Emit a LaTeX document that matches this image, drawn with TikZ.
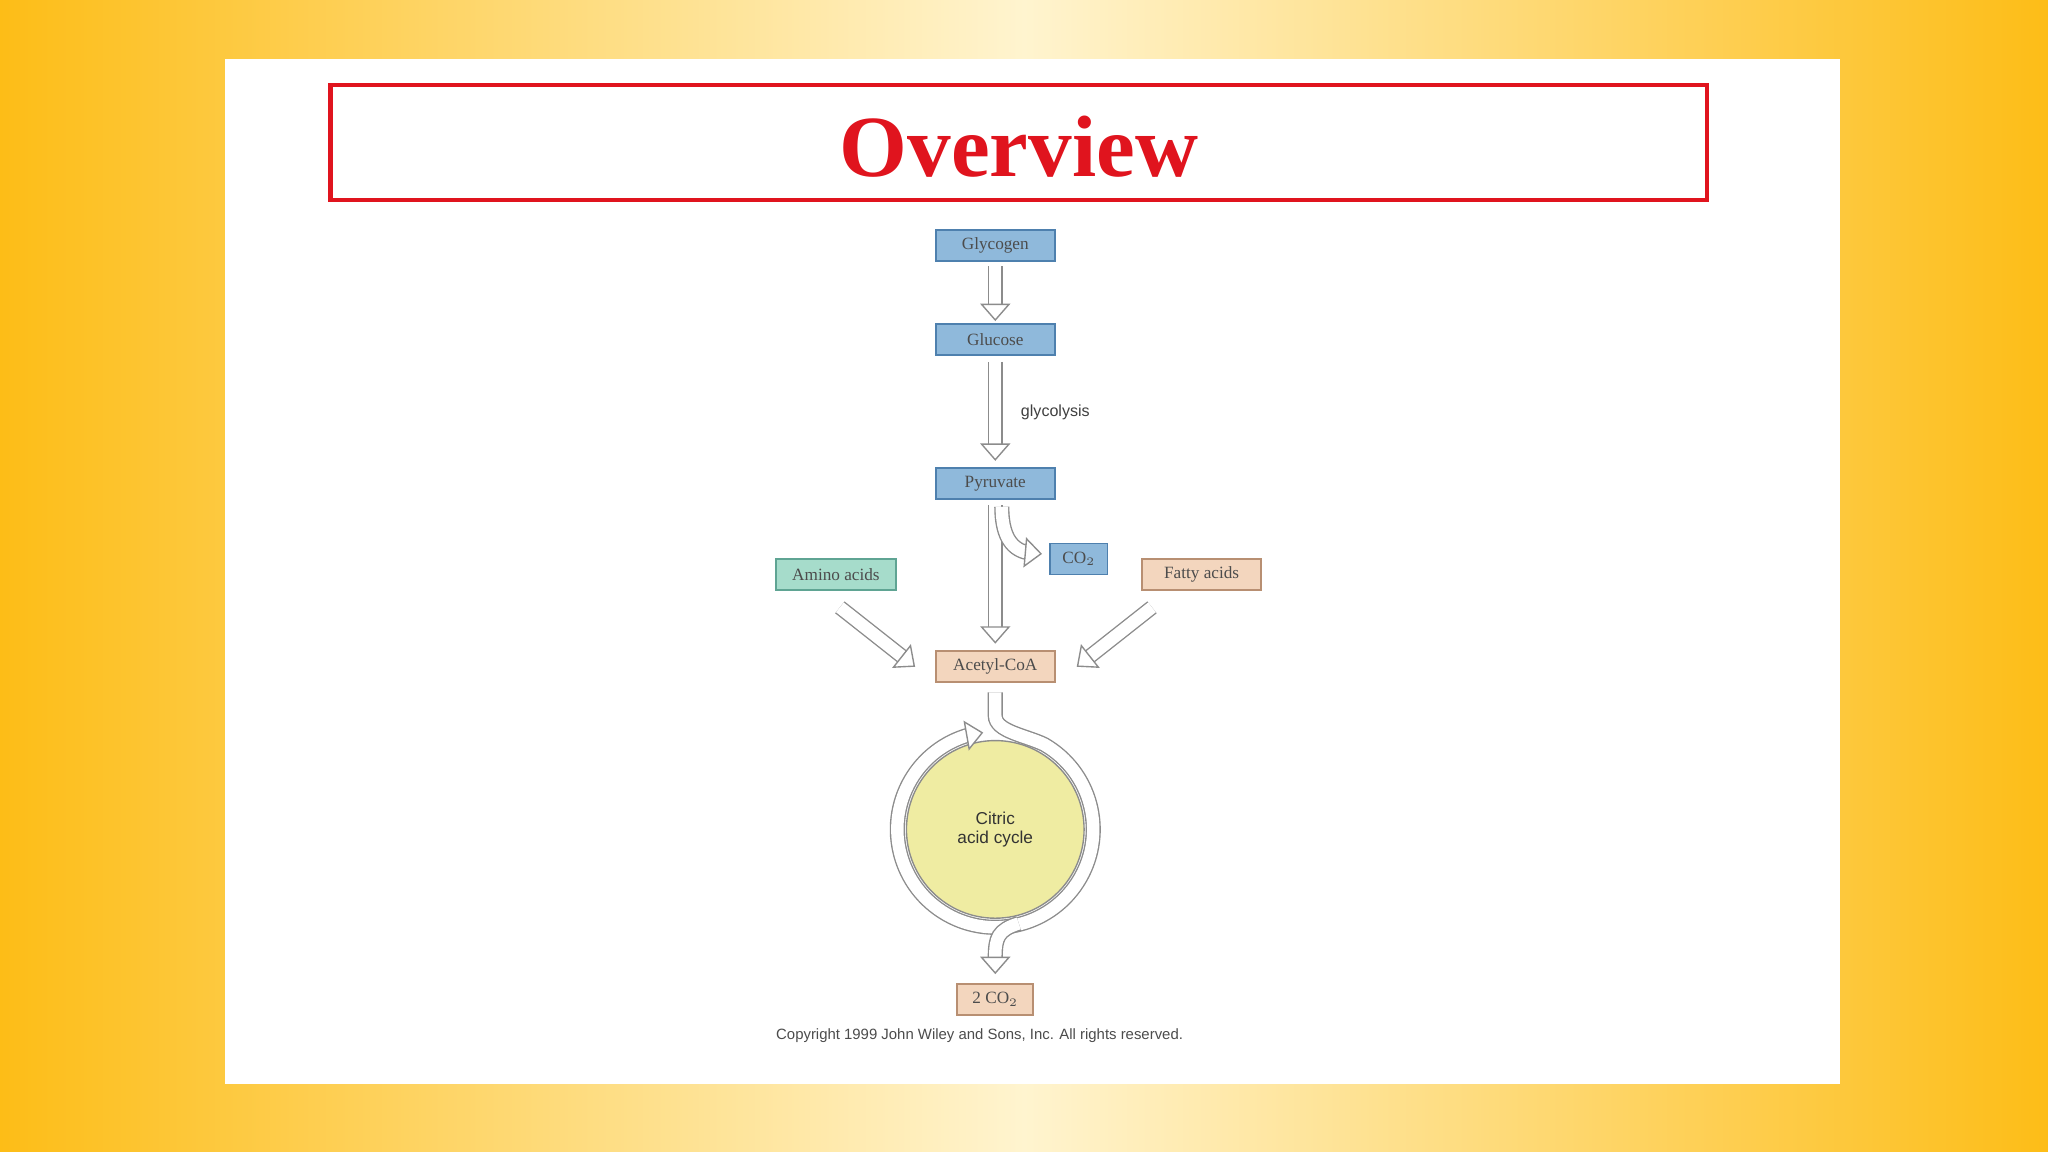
\documentclass[tikz,border=0pt]{standalone}
\usepackage{fontspec}
\setmainfont{Liberation Serif}
\setsansfont{Liberation Sans}
\usetikzlibrary{calc}
\definecolor{bgY}{HTML}{FDBD17}
\definecolor{bgL}{HTML}{FFF4CF}
\definecolor{tred}{HTML}{E0141E}
\definecolor{blueF}{HTML}{8FB9DB}
\definecolor{blueD}{HTML}{4E80AE}
\definecolor{tealF}{HTML}{A6DCCB}
\definecolor{tealD}{HTML}{5FA493}
\definecolor{peachF}{HTML}{F3D6BE}
\definecolor{peachD}{HTML}{B88F72}
\definecolor{cycF}{HTML}{EFECA2}
\definecolor{arrG}{HTML}{8C8C8C}
\tikzset{
  bluebox/.style={draw=blueD, fill=blueF, line width=0.8pt, minimum width=52pt, minimum height=13.5pt, inner sep=0pt, font=\fontsize{7.5}{8}\selectfont, text=black!70},
  tealbox/.style={bluebox, draw=tealD, fill=tealF},
  peachbox/.style={bluebox, draw=peachD, fill=peachF},
  shaft/.style={draw=arrG, line width=0.6pt, double=white, double distance=5.4pt},
  headst/.style={draw=arrG, fill=white, line width=0.6pt, line join=miter},
}
\newcommand\hhead[2]{\draw[headst, shift={(#1)}, rotate=#2] (0,0) -- (-12,10.5) -- (-12,-10.5) -- cycle;}
\begin{document}
\begin{tikzpicture}[x=0.02cm, y=0.02cm]
\useasboundingbox (0,0) rectangle (1568,-882);
\shade[left color=bgY, right color=bgY, middle color=bgL] (0,0) rectangle (1568,-882);
\fill[white] (172,-45) rectangle (1409,-830);
\node[draw=tred, line width=2pt, minimum width=1054*0.02cm, minimum height=88*0.02cm, inner sep=0pt] (title) at (780,-109) {};
\node[text=tred, font=\fontsize{38}{40}\selectfont\bfseries] (ttext) at (780,-112) {Overview};

\node[bluebox] (glycogen) at (762,-188) {Glycogen};
\node[bluebox] (glucose) at (762,-260) {Glucose};
\node[bluebox] (pyruvate) at (762,-370) {Pyruvate};
\node[bluebox, minimum width=25pt] (co2) at (826,-428) {CO$_2$};
\node[tealbox] (amino) at (640,-440) {Amino acids};
\node[peachbox] (fatty) at (920,-440) {Fatty acids};
\node[peachbox] (acetyl) at (762,-510) {Acetyl-CoA};
\node[peachbox, minimum width=33pt] (tco2) at (762,-765) {2 CO$_2$};
\node[font=\sffamily\fontsize{7}{8}\selectfont, text=black!75] (glyc) at (808,-316) {glycolysis};
\node[font=\sffamily\fontsize{6.5}{7}\selectfont, text=black!70] (copy) at (750,-793) {Copyright 1999 John Wiley and Sons, Inc. All rights reserved.};

% straight arrows
\draw[shaft] (762,-204) -- (762,-234); \hhead{762,-245}{-90}
\draw[shaft] (762,-277) -- (762,-341); \hhead{762,-352}{-90}
\draw[shaft] (762,-387) -- (762,-480); \hhead{762,-492}{-90}
\draw[shaft] (643,-465) -- (691.4,-503.2); \hhead{700,-510}{-38.3}
\draw[shaft] (882,-465) -- (833.6,-503.2); \hhead{825,-510}{-141.7}
\draw[shaft] (767,-388) .. controls (767,-408) and (773,-420) .. (786,-423); \hhead{797,-424}{-5}

% citric acid cycle
\node[circle, draw=arrG, fill=cycF, line width=0.6pt, minimum size=136*0.02cm, inner sep=0pt, font=\sffamily\fontsize{7.5}{8.5}\selectfont, align=center, text=black!80] (cycle) at (762,-635) {Citric\\acid cycle};
\draw[shaft] (762,-530) -- (762,-548) .. controls (762,-560) and (785,-563) .. (799.5,-570)
  arc[start angle=60, end angle=-255, radius=75];
\draw[shaft] (780,-707) .. controls (764,-712) and (762,-718) .. (762,-733);
\hhead{752,-561}{10}
\hhead{762,-745}{-90}
\end{tikzpicture}
\end{document}
